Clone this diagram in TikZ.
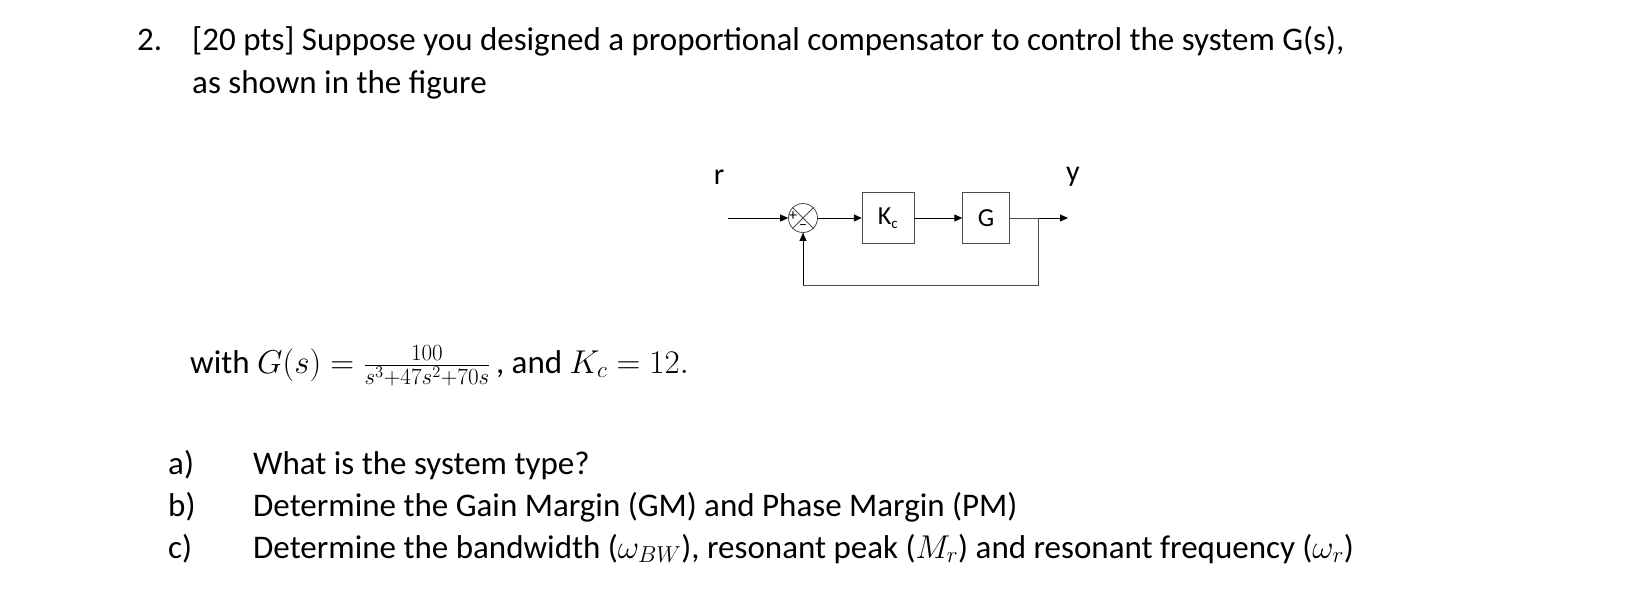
\RequirePackage{fix-cm}
\documentclass[tikz,border=0pt]{standalone}
\usepackage{fontspec}
\setmainfont{Carlito}
\usetikzlibrary{arrows.meta}
\begin{document}
\begin{tikzpicture}[x=1pt,y=-1pt,
  txt/.style={anchor=base west,inner sep=0pt,font=\fontsize{33}{38}\selectfont},
  blk/.style={draw=black!70,minimum width=50pt,minimum height=50pt,inner sep=0pt,font=\fontsize{26}{30}\selectfont},
  sig/.style={-{Triangle[length=8pt,width=7pt]},line width=0.9pt},
  ln/.style={line width=0.9pt,draw=black!70}]
\useasboundingbox (0,0) rectangle (1643,598);
\node[txt] (t1) at (137,50) {2.};
\node[txt] (t2) at (192,50) {[20 pts] Suppose you designed a proportional compensator to control the system G(s),};
\node[txt] (t3) at (192,93) {as shown in the figure};
\node[txt] (t4) at (190,373) {with $G(s)=\frac{100}{s^3+47s^2+70s}$\,, and $K_c=12.$};
\node[txt] (a1) at (168,474) {a)};
\node[txt] (a2) at (253,474) {What is the system type?};
\node[txt] (b1) at (168,516) {b)};
\node[txt] (b2) at (253,516) {Determine the Gain Margin (GM) and Phase Margin (PM)};
\node[txt] (c1) at (168,558) {c)};
\node[txt] (c2) at (253,558) {Determine the bandwidth ($\omega_{BW}$), resonant peak ($M_r$) and resonant frequency ($\omega_r$)};
% block diagram
\coordinate (rin) at (728,218);
\node[circle,draw=black!70,minimum size=29pt,inner sep=0pt,line width=0.8pt] (sum) at (803,218) {};
\draw[black!70,line width=0.8pt] (sum.north west)--(sum.south east) (sum.north east)--(sum.south west);
\node[font=\fontsize{16}{16}\selectfont,inner sep=0pt] (plus) at (793,216) {+};
\node[font=\fontsize{16}{16}\selectfont,inner sep=0pt] (minus) at (803,227) {--};
\node[blk,minimum width=52pt,minimum height=51pt] (K) at (888,218) {K\textsubscript{\fontsize{15}{15}\selectfont c}};
\node[blk,minimum width=47pt,minimum height=51pt] (G) at (986,218) {G};
\coordinate (br) at (1038,218);
\coordinate (yout) at (1068,218);
\coordinate (fb) at (1038,285);
\node[font=\fontsize{30}{30}\selectfont,inner sep=0pt] (r) at (719,177) {r};
\node[font=\fontsize{30}{30}\selectfont,inner sep=0pt] (y) at (1073,177) {y};
\draw[sig] (rin)--(sum.west);
\draw[sig] (sum.east)--(K.west);
\draw[sig] (K.east)--(G.west);
\draw[ln] (G.east)--(br);
\draw[sig] (br)--(yout);
\draw[ln] (br)--(fb)-|(sum.south);
\draw[sig] (sum.south|-fb)--(sum.south);
\end{tikzpicture}
\end{document}
